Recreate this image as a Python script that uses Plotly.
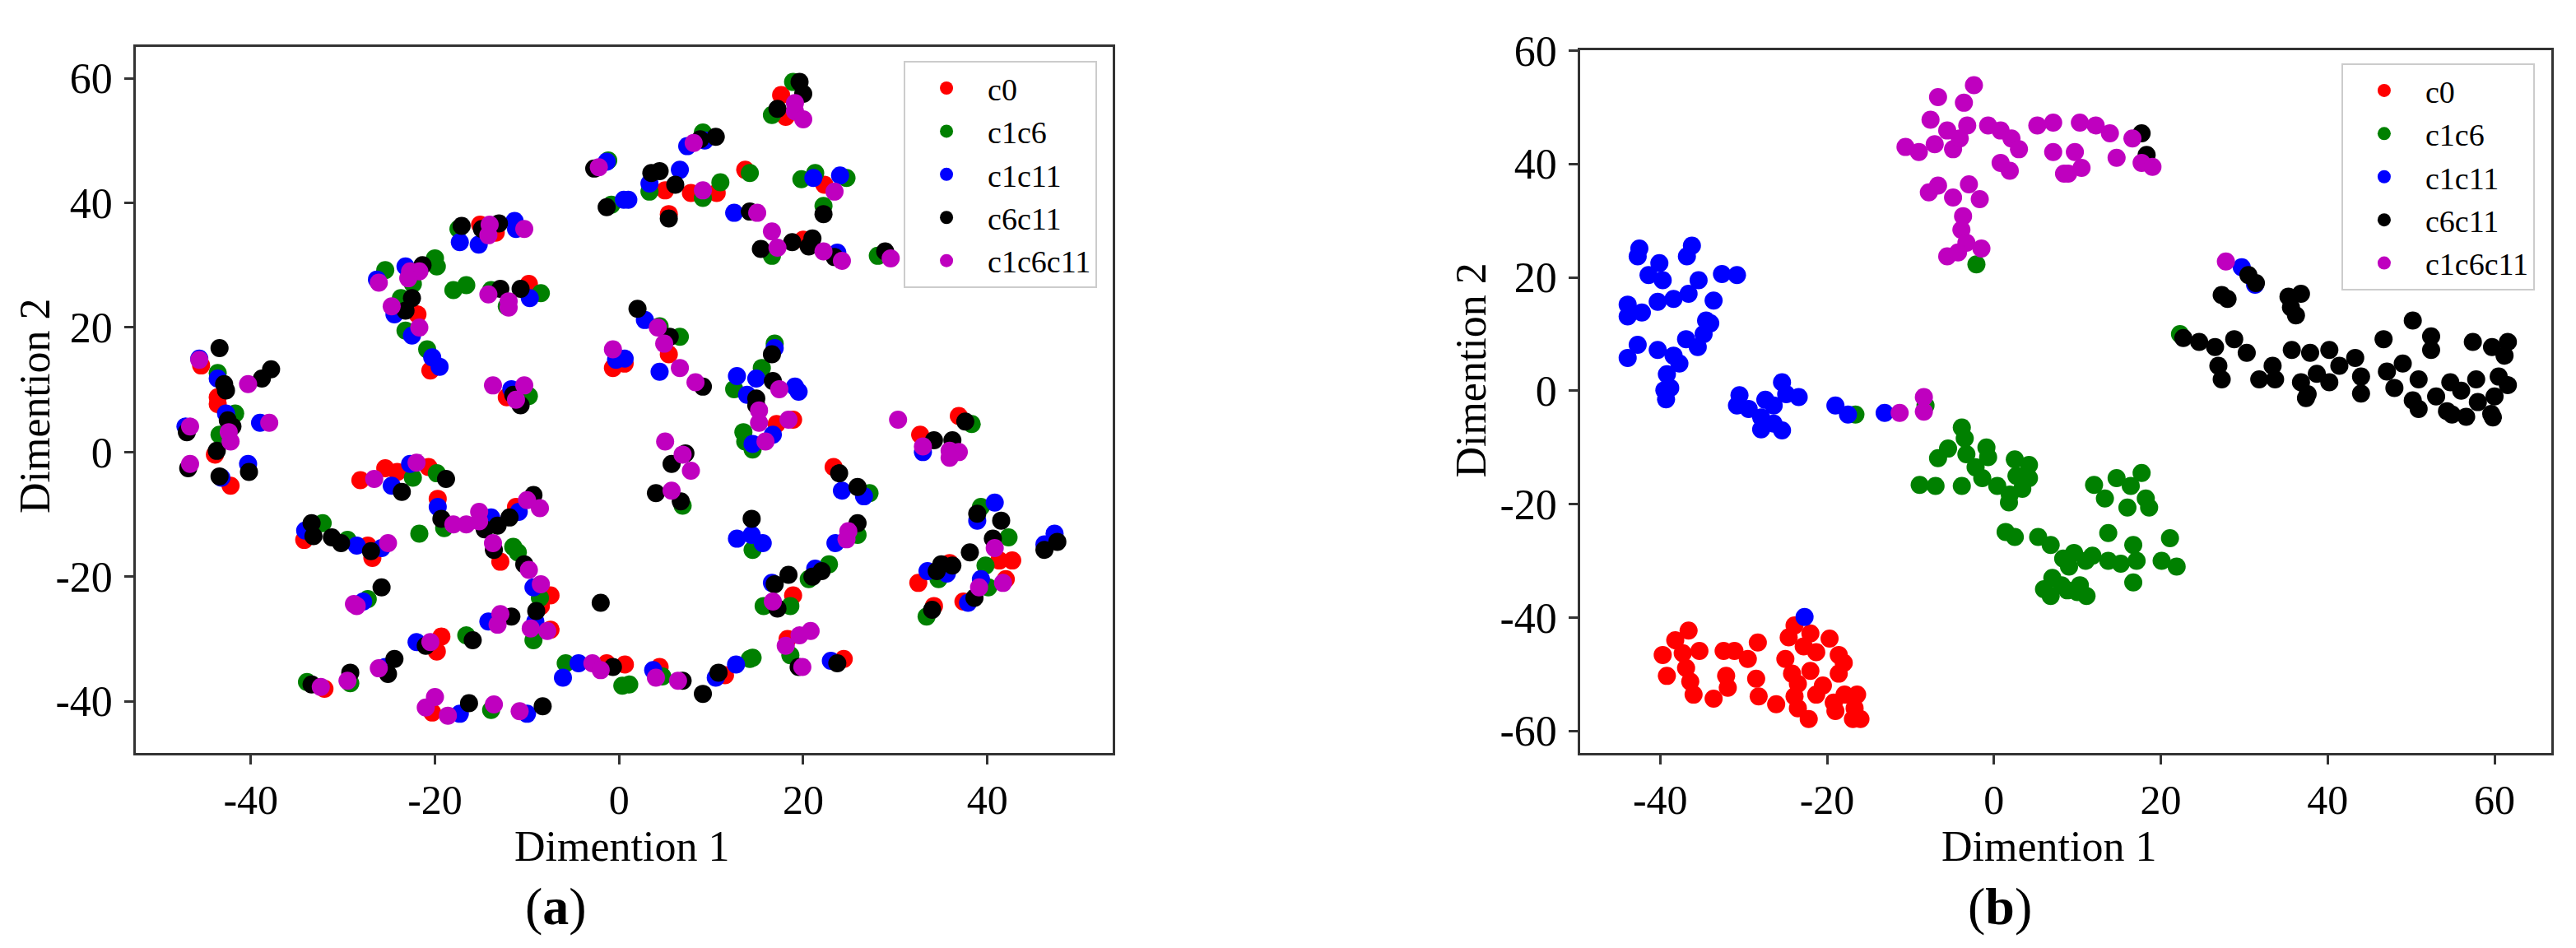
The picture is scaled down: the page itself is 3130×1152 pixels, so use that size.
import plotly.graph_objects as go

# class names and colours (matplotlib r, g, b, k, m)
classes = ["c0", "c1c6", "c1c11", "c6c11", "c1c6c11"]
colors = ["#ff0000", "#008000", "#0000ff", "#000000", "#bf00bf"]

# ---- panel (a): t-SNE points ----
a_c0 = [(-15.1,36.5),(-13.4,35.2),(-9.8,27.0),(-21.9,22.1),(-20.5,13.1),(-45.4,13.9),(-43.6,8.8),
        (-12.2,8.8),(-0.67,13.5),(17.6,57.3),(18.1,53.8),(5.0,42.0),(7.8,41.6),(10.6,41.6),(5.4,38.2),
        (13.7,45.3),(22.3,42.9),(20.0,34.1),(5.4,15.7),(0.6,14.2),(-43.6,7.7),(-43.9,-0.4),(-42.2,-5.4),
        (-28.1,-4.5),(-25.4,-2.6),(-24.1,-3.2),(-20.7,-2.4),(-19.7,-7.5),(-11.2,-8.8),(-12.9,-17.6),
        (-34.2,-14.1),(-27.3,-15.0),(-26.8,-17.0),(-7.45,-23.0),(-8.5,-24.7),(-7.45,-28.5),(-19.3,-29.6),
        (-19.8,-32.0),(-32.0,-38.0),(-1.35,-33.9),(-20.3,-41.8),(18.9,5.2),(17.1,4.5),(36.9,5.8),
        (32.7,2.8),(23.3,-2.4),(18.9,-23.0),(18.3,-30.0),(24.4,-33.2),(42.7,-17.4),(41.3,-17.4),
        (35.9,-17.8),(32.5,-21.0),(42.0,-20.4),(37.4,-24.0),(34.2,-24.7),(0.63,-34.1),(4.4,-34.5),
        (11.5,-35.8)]
a_c1c6 = [(-1.18,46.8),(-0.84,39.7),(-17.45,35.8),(-25.4,29.2),(-20.0,31.1),(-19.8,29.8),(-22.4,27.0),
          (-18.0,26.0),(-16.6,26.8),(-13.9,26.0),(-8.5,25.5),(-12.2,23.4),(-23.7,24.7),(-23.2,19.5),
          (-20.85,16.5),(-43.6,12.7),(-9.8,9.0),(18.9,59.4),(16.6,54.1),(9.1,51.3),(3.3,41.8),(9.1,40.8),
          (11.0,43.3),(14.2,44.8),(19.8,43.8),(21.3,44.8),(24.7,44.0),(22.2,39.5),(16.6,31.5),(28.1,31.5),
          (4.4,20.2),(6.6,18.5),(16.9,17.4),(15.5,13.5),(12.5,10.1),(-41.7,6.2),(-43.4,2.8),(-22.4,-4.1),
          (-19.8,-3.4),(-19.0,-12.2),(-11.5,-15.2),(-11.0,-16.1),(-32.2,-11.4),(-29.5,-14.1),(-21.7,-13.1),
          (-27.3,-23.6),(-8.6,-23.4),(-9.3,-30.2),(-16.6,-29.4),(-29.2,-37.1),(-33.9,-36.9),(-5.8,-33.9),
          (0.35,-37.5),(-13.9,-41.4),(13.5,3.2),(13.7,1.7),(14.5,0.4),(6.9,-8.6),(38.3,4.5),(27.2,-6.6),
          (14.5,-15.7),(25.9,-13.3),(22.8,-18.0),(20.6,-20.4),(15.7,-24.7),(18.6,-24.7),(18.6,-32.6),
          (39.3,-8.8),(42.3,-13.7),(39.8,-18.2),(34.7,-20.4),(40.1,-21.7),(33.4,-26.4),(1.1,-37.3),
          (4.7,-36.0),(14.2,-33.2),(14.5,-33.0)]
a_c1c11 = [(-1.35,46.6),(0.52,40.5),(-17.3,33.7),(-15.25,33.3),(-11.35,37.1),(-11.2,35.8),(-26.3,27.7),
           (-23.2,29.8),(-9.7,24.7),(-24.4,22.1),(-22.5,18.7),(-20.3,15.2),(-19.5,13.7),(-45.6,15.0),
           (-43.6,11.8),(-11.7,10.1),(-0.33,14.8),(7.4,49.1),(9.3,50.0),(6.6,45.3),(3.3,43.1),(1.0,40.5),
           (12.5,38.4),(21.1,44.0),(24.0,44.4),(23.7,32.0),(2.8,21.2),(0.6,15.0),(4.4,12.9),(16.9,16.7),
           (12.8,12.2),(14.9,11.8),(13.9,9.2),(19.1,10.5),(19.5,9.7),(-42.7,6.2),(-47.1,4.1),(-39.0,4.7),
           (-40.3,-1.9),(-43.2,-4.1),(-24.7,-5.4),(-22.7,-1.9),(-19.7,-8.8),(-13.9,-10.5),(-10.9,-9.6),
           (-34.1,-12.6),(-28.5,-15.0),(-25.8,-15.4),(-27.8,-24.0),(-9.3,-21.7),(-14.2,-27.2),(-9.1,-27.2),
           (-22.0,-30.5),(-25.4,-34.5),(-4.4,-33.9),(-6.1,-36.2),(-17.3,-42.0),(-10.0,-42.0),(14.5,1.3),
           (16.7,2.8),(33.0,0.0),(24.2,-6.2),(26.6,-7.1),(12.8,-13.9),(14.4,-13.3),(15.6,-14.6),(23.5,-14.6),
           (21.3,-18.7),(16.6,-21.0),(23.0,-33.5),(40.8,-8.1),(38.9,-11.0),(33.5,-19.1),(35.6,-19.5),
           (39.3,-20.4),(37.9,-24.2),(46.2,-14.8),(47.3,-13.1),(3.7,-35.0),(10.5,-36.2),(12.7,-34.1)]
a_c6c11 = [(-2.7,45.5),(-1.35,39.3),(-17.1,36.3),(-13.05,36.7),(-14.9,35.8),(-21.35,30.0),(-12.9,26.2),
           (-10.7,26.2),(-22.5,24.7),(-23.2,22.7),(-43.4,16.7),(-42.9,10.9),(-42.7,9.9),(-38.8,11.8),
           (-37.8,13.3),(-11.5,9.2),(19.6,59.4),(20.0,57.5),(17.2,55.1),(10.5,50.6),(8.8,50.2),(3.5,44.8),
           (4.4,45.1),(6.1,42.9),(5.4,37.5),(14.2,38.6),(22.2,38.2),(15.4,32.6),(18.8,33.7),(21.0,34.3),
           (20.6,33.0),(23.4,31.3),(28.9,32.2),(2.0,23.0),(5.5,18.5),(9.1,10.5),(16.6,15.7),(16.7,11.4),
           (14.9,8.6),(-42.5,5.1),(-42.0,4.1),(-46.95,3.2),(-43.7,0.2),(-46.8,-2.6),(-40.2,-3.2),(-43.4,-3.9),
           (-23.6,-6.4),(-18.8,-4.3),(-19.3,-10.7),(-14.6,-12.4),(-13.2,-11.8),(-11.9,-10.5),(-9.3,-6.9),
           (-13.6,-15.7),(-10.3,-18.0),(-33.4,-11.4),(-33.2,-13.5),(-31.2,-13.7),(-30.2,-14.6),(-26.95,-15.9),
           (-25.8,-21.7),(-9.0,-25.5),(-2.0,-24.2),(-11.7,-26.4),(-15.9,-30.2),(-21.0,-31.1),(-24.4,-33.2),
           (-25.1,-35.6),(-29.2,-35.4),(-33.4,-37.3),(-0.67,-34.5),(-16.3,-40.3),(-8.3,-40.8),(-10.7,7.5),
           (14.9,7.5),(7.2,-0.2),(5.7,-1.9),(4.0,-6.6),(6.7,-7.9),(37.6,4.9),(34.2,1.9),(36.2,1.9),(23.9,-3.4),
           (25.9,-5.6),(14.4,-10.7),(25.9,-11.4),(22.0,-19.1),(21.0,-20.0),(18.4,-19.7),(16.9,-21.2),
           (17.2,-25.1),(19.5,-34.5),(23.7,-33.9),(38.9,-9.9),(41.5,-11.0),(40.6,-13.9),(38.1,-16.1),
           (36.2,-18.2),(35.0,-18.0),(34.5,-19.1),(38.6,-23.4),(34.0,-25.3),(46.2,-15.7),(47.6,-14.4),
           (6.9,-36.7),(9.1,-38.8),(10.8,-35.4)]
a_c1c6c11 = [(-2.2,45.7),(-14.06,36.5),(-14.2,34.8),(-10.3,35.8),(-26.1,27.2),(-22.7,29.0),(-21.7,29.0),
             (-22.9,27.9),(-14.2,25.3),(-12.0,24.2),(-12.0,23.2),(-24.7,23.4),(-21.7,20.0),(-45.6,14.8),
             (-40.3,10.9),(-13.7,10.7),(-10.3,10.7),(-0.67,16.5),(19.1,56.0),(19.1,54.7),(20.0,53.4),
             (8.1,49.6),(9.1,42.0),(15.0,38.4),(23.4,41.8),(16.6,35.4),(17.2,32.8),(22.2,32.2),(24.2,30.7),
             (29.5,31.1),(4.2,20.0),(4.9,17.4),(6.6,13.5),(8.3,11.2),(17.4,10.1),(-46.6,4.1),(-42.4,3.2),
             (-42.2,1.7),(-38.0,4.7),(-46.6,-1.9),(-26.6,-4.3),(-22.0,-1.7),(-18.0,-11.6),(-16.6,-11.6),
             (-15.2,-9.6),(-15.2,-11.1),(-10.0,-7.7),(-8.6,-9.0),(-13.7,-14.6),(-9.8,-18.9),(-25.1,-14.6),
             (-28.8,-24.4),(-28.5,-24.7),(-8.5,-21.2),(-12.9,-26.0),(-13.2,-27.7),(-9.6,-28.3),(-7.8,-28.7),
             (-20.5,-30.5),(-26.1,-34.7),(-29.5,-36.7),(-32.4,-37.7),(-2.9,-33.9),(-2.0,-35.0),(-20.0,-39.3),
             (-21.0,-41.0),(-18.6,-42.3),(-13.6,-40.5),(-10.8,-41.6),(-11.2,8.4),(15.2,6.7),(18.4,5.2),
             (15.2,4.7),(15.9,1.7),(5.0,1.7),(6.9,-0.4),(7.8,-3.0),(5.7,-6.2),(30.3,5.2),(33.0,0.9),(35.9,0.2),
             (36.9,0.0),(35.9,-0.9),(24.9,-12.7),(24.7,-14.0),(16.7,-24.0),(20.8,-28.7),(19.6,-29.4),
             (18.1,-31.1),(19.9,-34.5),(40.8,-15.4),(39.1,-21.7),(41.7,-21.0),(4.0,-36.2),(6.4,-36.7)]

# ---- panel (b) ----
b_c0 = [(-36.6,-42.3),(-38.2,-44.0),(-39.7,-46.6),(-37.3,-46.3),(-35.3,-45.9),(-36.9,-48.9),(-39.2,-50.3),
        (-36.4,-51.3),(-36.0,-53.6),(-33.6,-54.3),(-31.9,-52.4),(-32.1,-50.3),(-32.4,-45.9),(-31.1,-45.9),
        (-29.5,-47.3),(-28.3,-44.4),(-28.5,-50.8),(-28.2,-53.9),(-26.1,-55.3),(-23.9,-41.4),(-24.6,-43.5),
        (-22.0,-42.8),(-19.7,-43.7),(-22.8,-45.1),(-25.0,-47.3),(-21.3,-46.1),(-18.6,-46.6),(-18.0,-48.0),
        (-24.2,-49.9),(-18.6,-49.9),(-23.5,-51.7),(-20.5,-52.0),(-21.3,-53.6),(-23.9,-53.9),(-23.5,-56.0),
        (-22.2,-57.9),(-19.2,-55.0),(-19.0,-56.5),(-16.4,-53.6),(-16.9,-57.9),(-16.0,-57.9),(-16.7,-56.0),
        (-17.9,-53.6),(-22.0,-49.4)]
b_c1c6 = [(-3.85,-6.5),(-3.5,-8.4),(-5.5,-10.2),(-6.7,-11.9),(-3.3,-11.2),(-0.9,-10.0),(-0.7,-11.7),
          (-2.2,-13.5),(-1.4,-15.4),(-3.85,-16.8),(-8.9,-16.6),(-7.0,-16.8),(2.5,-12.1),(4.2,-13.1),
          (0.4,-16.8),(1.9,-18.3),(3.4,-17.3),(4.2,-15.4),(2.7,-15.0),(1.8,-19.7),(1.4,-24.9),(2.5,-25.8),
          (5.3,-25.8),(6.8,-27.2),(8.3,-29.6),(8.1,-34.3),(6.8,-36.2),(12.0,-16.6),(14.7,-15.4),(17.7,-14.5),
          (13.3,-19.0),(16.4,-16.8),(18.2,-19.0),(16.0,-20.6),(18.6,-20.6),(13.7,-25.1),(9.6,-28.6),
          (11.8,-29.1),(13.7,-30.0),(16.7,-27.2),(17.1,-30.0),(15.2,-30.5),(21.1,-26.0),(20.1,-30.0),
          (21.9,-31.0),(10.3,-34.3),(11.1,-36.2),(16.7,-33.8),(8.8,-35.2),(7.0,-33.0),(9.0,-31.0),
          (10.0,-35.5),(6.0,-35.0),(11.0,-30.0),(-16.6,-4.2),(-8.2,-2.6),(-2.1,22.3),(22.3,10.0)]
b_c1c11 = [(-42.5,25.1),(-42.7,23.7),(-40.1,22.5),(-36.2,25.6),(-36.8,23.7),(-41.4,20.4),(-39.7,19.5),
           (-35.4,19.5),(-32.6,20.6),(-30.8,20.4),(-43.9,15.2),(-42.2,13.8),(-43.9,13.1),(-40.3,15.7),
           (-38.4,16.2),(-36.6,17.1),(-33.6,15.9),(-34.5,12.4),(-34.0,11.9),(-34.8,10.0),(-36.9,9.1),
           (-35.5,7.7),(-42.7,8.1),(-43.9,5.8),(-40.3,7.2),(-38.4,6.2),(-37.7,4.8),(-39.2,2.9),(-39.5,0.1),
           (-39.3,-1.5),(-38.8,0.5),(-30.5,-0.8),(-29.4,-3.2),(-27.4,-1.6),(-25.4,1.5),(-24.9,-0.6),
           (-23.4,-1.1),(-27.9,-4.7),(-26.4,-5.8),(-25.4,-7.0),(-27.9,-6.8),(-30.8,-2.6),(-26.4,-2.6),
           (-19.0,-2.6),(-17.5,-4.2),(-13.1,-3.9),(-22.7,-39.9),(29.7,21.8),(31.3,18.7)]
b_c6c11 = [(17.7,45.4),(18.3,41.6),(30.5,20.4),(31.4,19.0),(27.3,16.9),(28.0,16.2),(35.3,16.6),(36.8,17.1),
           (35.6,14.7),(36.2,13.3),(22.7,9.3),(24.6,8.6),(26.5,7.7),(28.8,9.1),(26.9,4.4),(27.3,2.0),
           (30.3,6.7),(31.8,2.0),(33.4,4.4),(33.7,2.0),(35.7,7.2),(37.9,6.7),(40.2,7.2),(38.7,3.0),(36.8,1.5),
           (41.4,4.4),(43.3,5.8),(46.7,9.1),(50.2,12.4),(52.4,9.6),(52.4,7.2),(57.4,8.6),(59.7,7.7),(61.6,8.6),
           (61.2,6.2),(47.1,3.4),(49.0,4.8),(50.9,2.0),(54.7,1.5),(57.8,2.0),(60.5,2.5),(61.6,1.0),(44.0,2.5),
           (40.2,1.5),(50.9,-3.2),(54.3,-3.6),(56.6,-4.6),(59.6,-4.1),(37.4,-1.3),(50.2,-1.7),(37.6,-0.6),
           (54.9,-4.2),(59.8,-4.7),(44.0,-0.5),(48.0,0.5),(53.0,-1.0),(56.0,0.0),(58.0,-2.0),(60.0,-1.0)]
b_c1c6c11 = [(-2.4,53.9),(-3.6,50.8),(-6.7,51.8),(-7.6,47.8),(-5.6,45.9),(-3.2,46.8),(-4.9,42.6),(-7.1,43.5),
             (-10.6,43.0),(-9.0,42.1),(-4.1,44.5),(-0.7,46.8),(0.8,45.9),(2.1,44.5),(3.0,42.6),(0.8,40.2),
             (1.9,38.8),(5.2,46.8),(7.1,47.3),(7.1,42.1),(8.4,38.3),(-7.8,35.0),(-6.7,36.2),(-4.9,34.1),
             (-3.0,36.4),(-1.7,33.8),(-3.7,30.8),(-3.9,28.4),(-3.3,26.1),(-1.5,25.1),(-5.6,23.7),(-4.3,24.4),
             (10.3,47.3),(12.2,46.8),(13.9,45.4),(16.6,44.5),(9.7,42.1),(10.5,39.3),(14.7,41.1),(17.7,40.2),
             (19.0,39.5),(8.9,38.3),(-11.3,-3.9),(-8.4,-1.1),(-8.4,-3.7),(27.8,22.8)]

# tick positions; labels use a plain hyphen like the original
a_xticks = [-40, -20, 0, 20, 40]
a_yticks = [-40, -20, 0, 20, 40, 60]
b_xticks = [-40, -20, 0, 20, 40, 60]
b_yticks = [-60, -40, -20, 0, 20, 40, 60]

serif = "Liberation Serif"
panel_a = [a_c0, a_c1c6, a_c1c11, a_c6c11, a_c1c6c11]
panel_b = [b_c0, b_c1c6, b_c1c11, b_c6c11, b_c1c6c11]

fig = go.Figure()
for name, col, pts in zip(classes, colors, panel_a):
    fig.add_trace(go.Scatter(
        x=[p[0] for p in pts], y=[p[1] for p in pts], mode="markers", name=name,
        marker=dict(color=col, size=22, line=dict(width=0)),
        xaxis="x", yaxis="y", legend="legend"))
for name, col, pts in zip(classes, colors, panel_b):
    fig.add_trace(go.Scatter(
        x=[p[0] for p in pts], y=[p[1] for p in pts], mode="markers", name=name,
        marker=dict(color=col, size=22, line=dict(width=0)),
        xaxis="x2", yaxis="y2", legend="legend2"))

def axis(dom, rng, ticks, anchor, standoff, size):
    return dict(domain=dom, range=rng, anchor=anchor, tickvals=ticks,
                ticktext=[str(t) for t in ticks],
                showgrid=False, zeroline=False, showline=True, mirror=True,
                linecolor="#333333", linewidth=2.5, ticks="outside", ticklen=11,
                tickwidth=2.5, tickcolor="#333333", ticklabelstandoff=standoff,
                tickfont=dict(family=serif, size=size, color="black"))

legend_style = dict(font=dict(family=serif, size=38, color="black"),
                    bgcolor="rgba(255,255,255,0.8)", bordercolor="#cccccc", borderwidth=2,
                    xanchor="right", yanchor="top", itemsizing="trace", itemwidth=90,
                    tracegroupgap=0)

fig.update_layout(
    width=3130, height=1152,
    margin=dict(l=0, r=0, t=0, b=0),
    paper_bgcolor="white", plot_bgcolor="white",
    xaxis=axis([0.0527, 0.4319], [-52.5, 53.6], a_xticks, "y", 0, 50),
    yaxis=axis([0.2092, 0.9731], [-48.3, 65.0], a_yticks, "x", 4, 52),
    xaxis2=axis([0.6134, 0.9904], [-49.6, 66.8], b_xticks, "y2", 0, 50),
    yaxis2=axis([0.2092, 0.9696], [-63.9, 60.05], b_yticks, "x2", 4, 52),
    legend=dict(x=0.4259, y=0.9583, **legend_style),
    legend2=dict(x=0.984, y=0.9557, **legend_style),
)

title_font = dict(family=serif, size=52, color="black")
labels = [
    ("Dimention 1", 0.2415, 0.108, 0),
    ("Dimention 2", 0.0134, 0.585, -90),
    ("Dimention 1", 0.7955, 0.108, 0),
    ("Dimention 2", 0.5710, 0.623, -90),
]
for text, x, y, ang in labels:
    fig.add_annotation(text=text, x=x, y=y, xref="paper", yref="paper", showarrow=False,
                       textangle=ang, xanchor="center", yanchor="middle", font=title_font)

for text, x in [("(<b>a</b>)", 0.2157), ("(<b>b</b>)", 0.7764)]:
    fig.add_annotation(text=text, x=x, y=0.043, xref="paper", yref="paper",
                       showarrow=False, xanchor="center", yanchor="middle",
                       font=dict(family=serif, size=64, color="black"))

fig.write_html("out.html", config={"displayModeBar": False},
               post_script="document.body.style.margin='0';")
